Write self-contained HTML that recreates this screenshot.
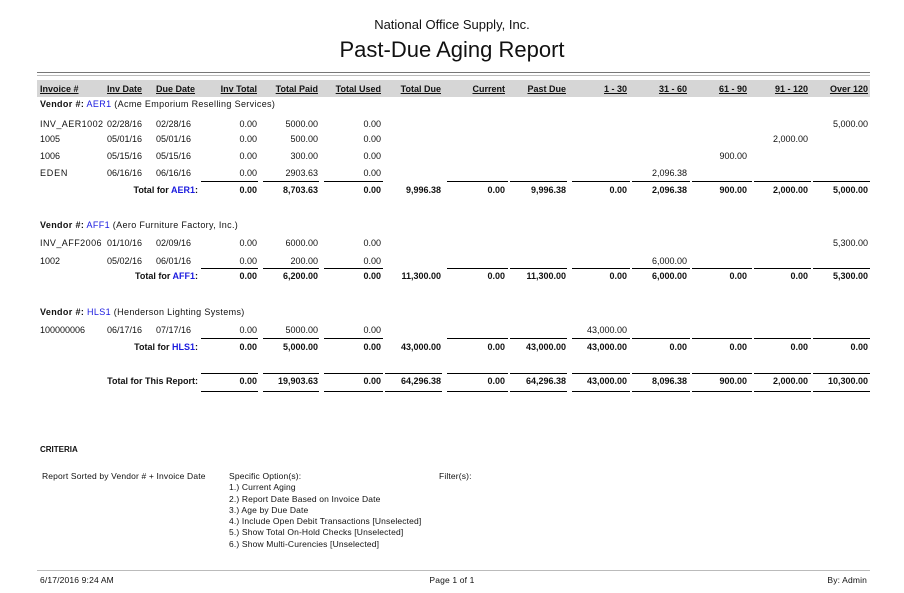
<!DOCTYPE html>
<html><head><meta charset="utf-8"><style>
body{margin:0;background:#fff;width:904px;height:593px;position:relative;overflow:hidden;font-family:"Liberation Sans",sans-serif;color:#111}
.t{position:absolute;white-space:nowrap;font-size:9px;line-height:10px}
.b{font-weight:bold}
.u{text-decoration:underline}
.l{position:absolute;height:1px;background:#000}
.v{color:#1a1adf}
.vd{letter-spacing:0.35px}
.sp{letter-spacing:0.8px}
.c{font-size:8.5px;letter-spacing:0.15px}
.hd{position:absolute;left:37px;top:80px;width:833px;height:17px;background:#d6d6d6}
</style></head><body>
<div class="t" style="left:0;width:904px;text-align:center;top:17px;font-size:13px;line-height:15px">National Office Supply, Inc.</div>
<div class="t" style="left:0;width:904px;text-align:center;top:37px;font-size:22px;line-height:26px">Past-Due Aging Report</div>
<div class="l" style="left:37px;top:72px;width:833px;background:#777"></div>
<div class="l" style="left:37px;top:75px;width:833px;background:#bbb"></div>
<div class="hd"></div>
<div class="t b u" style="left:40px;top:84px">Invoice #</div>
<div class="t b u" style="left:107px;top:84px">Inv Date</div>
<div class="t b u" style="left:156px;top:84px">Due Date</div>
<div class="t b u" style="right:647px;top:84px">Inv Total</div>
<div class="t b u" style="right:586px;top:84px">Total Paid</div>
<div class="t b u" style="right:523px;top:84px">Total Used</div>
<div class="t b u" style="right:463px;top:84px">Total Due</div>
<div class="t b u" style="right:399px;top:84px">Current</div>
<div class="t b u" style="right:338px;top:84px">Past Due</div>
<div class="t b u" style="right:277px;top:84px">1 - 30</div>
<div class="t b u" style="right:217px;top:84px">31 - 60</div>
<div class="t b u" style="right:157px;top:84px">61 - 90</div>
<div class="t b u" style="right:96px;top:84px">91 - 120</div>
<div class="t b u" style="right:36px;top:84px">Over 120</div>

<!-- AER1 -->
<div class="t vd" style="left:40px;top:99px"><b>Vendor #:</b> <span class="v">AER1</span> (Acme Emporium Reselling Services)</div>
<div class="t" style="left:40px;top:119px;letter-spacing:0.45px">INV_AER1002</div><div class="t" style="left:107px;top:119px">02/28/16</div><div class="t" style="left:156px;top:119px">02/28/16</div><div class="t" style="right:647px;top:119px">0.00</div><div class="t" style="right:586px;top:119px">5000.00</div><div class="t" style="right:523px;top:119px">0.00</div><div class="t" style="right:36px;top:119px">5,000.00</div>
<div class="t" style="left:40px;top:134px">1005</div><div class="t" style="left:107px;top:134px">05/01/16</div><div class="t" style="left:156px;top:134px">05/01/16</div><div class="t" style="right:647px;top:134px">0.00</div><div class="t" style="right:586px;top:134px">500.00</div><div class="t" style="right:523px;top:134px">0.00</div><div class="t" style="right:96px;top:134px">2,000.00</div>
<div class="t" style="left:40px;top:151px">1006</div><div class="t" style="left:107px;top:151px">05/15/16</div><div class="t" style="left:156px;top:151px">05/15/16</div><div class="t" style="right:647px;top:151px">0.00</div><div class="t" style="right:586px;top:151px">300.00</div><div class="t" style="right:523px;top:151px">0.00</div><div class="t" style="right:157px;top:151px">900.00</div>
<div class="t sp" style="left:40px;top:168px">EDEN</div><div class="t" style="left:107px;top:168px">06/16/16</div><div class="t" style="left:156px;top:168px">06/16/16</div><div class="t" style="right:647px;top:168px">0.00</div><div class="t" style="right:586px;top:168px">2903.63</div><div class="t" style="right:523px;top:168px">0.00</div><div class="t" style="right:217px;top:168px">2,096.38</div>
<div class="l" style="left:201px;top:181px;width:57px"></div><div class="l" style="left:263px;top:181px;width:56px"></div><div class="l" style="left:324px;top:181px;width:59px"></div><div class="l" style="left:447px;top:181px;width:61px"></div><div class="l" style="left:510px;top:181px;width:57px"></div><div class="l" style="left:572px;top:181px;width:58px"></div><div class="l" style="left:632px;top:181px;width:58px"></div><div class="l" style="left:692px;top:181px;width:60px"></div><div class="l" style="left:754px;top:181px;width:57px"></div><div class="l" style="left:813px;top:181px;width:57px"></div>
<div class="t b" style="right:706px;top:185px">Total for <span class="v">AER1</span>:</div><div class="t b" style="right:647px;top:185px">0.00</div><div class="t b" style="right:586px;top:185px">8,703.63</div><div class="t b" style="right:523px;top:185px">0.00</div><div class="t b" style="right:463px;top:185px">9,996.38</div><div class="t b" style="right:399px;top:185px">0.00</div><div class="t b" style="right:338px;top:185px">9,996.38</div><div class="t b" style="right:277px;top:185px">0.00</div><div class="t b" style="right:217px;top:185px">2,096.38</div><div class="t b" style="right:157px;top:185px">900.00</div><div class="t b" style="right:96px;top:185px">2,000.00</div><div class="t b" style="right:36px;top:185px">5,000.00</div>

<!-- AFF1 -->
<div class="t vd" style="left:40px;top:220px"><b>Vendor #:</b> <span class="v">AFF1</span> (Aero Furniture Factory, Inc.)</div>
<div class="t" style="left:40px;top:238px;letter-spacing:0.45px">INV_AFF2006</div><div class="t" style="left:107px;top:238px">01/10/16</div><div class="t" style="left:156px;top:238px">02/09/16</div><div class="t" style="right:647px;top:238px">0.00</div><div class="t" style="right:586px;top:238px">6000.00</div><div class="t" style="right:523px;top:238px">0.00</div><div class="t" style="right:36px;top:238px">5,300.00</div>
<div class="t" style="left:40px;top:256px">1002</div><div class="t" style="left:107px;top:256px">05/02/16</div><div class="t" style="left:156px;top:256px">06/01/16</div><div class="t" style="right:647px;top:256px">0.00</div><div class="t" style="right:586px;top:256px">200.00</div><div class="t" style="right:523px;top:256px">0.00</div><div class="t" style="right:217px;top:256px">6,000.00</div>
<div class="l" style="left:201px;top:268px;width:57px"></div><div class="l" style="left:263px;top:268px;width:56px"></div><div class="l" style="left:324px;top:268px;width:59px"></div><div class="l" style="left:447px;top:268px;width:61px"></div><div class="l" style="left:510px;top:268px;width:57px"></div><div class="l" style="left:572px;top:268px;width:58px"></div><div class="l" style="left:632px;top:268px;width:58px"></div><div class="l" style="left:692px;top:268px;width:60px"></div><div class="l" style="left:754px;top:268px;width:57px"></div><div class="l" style="left:813px;top:268px;width:57px"></div>
<div class="t b" style="right:706px;top:271px">Total for <span class="v">AFF1</span>:</div><div class="t b" style="right:647px;top:271px">0.00</div><div class="t b" style="right:586px;top:271px">6,200.00</div><div class="t b" style="right:523px;top:271px">0.00</div><div class="t b" style="right:463px;top:271px">11,300.00</div><div class="t b" style="right:399px;top:271px">0.00</div><div class="t b" style="right:338px;top:271px">11,300.00</div><div class="t b" style="right:277px;top:271px">0.00</div><div class="t b" style="right:217px;top:271px">6,000.00</div><div class="t b" style="right:157px;top:271px">0.00</div><div class="t b" style="right:96px;top:271px">0.00</div><div class="t b" style="right:36px;top:271px">5,300.00</div>

<!-- HLS1 -->
<div class="t vd" style="left:40px;top:307px"><b>Vendor #:</b> <span class="v">HLS1</span> (Henderson Lighting Systems)</div>
<div class="t" style="left:40px;top:325px">100000006</div><div class="t" style="left:107px;top:325px">06/17/16</div><div class="t" style="left:156px;top:325px">07/17/16</div><div class="t" style="right:647px;top:325px">0.00</div><div class="t" style="right:586px;top:325px">5000.00</div><div class="t" style="right:523px;top:325px">0.00</div><div class="t" style="right:277px;top:325px">43,000.00</div>
<div class="l" style="left:201px;top:338px;width:57px"></div><div class="l" style="left:263px;top:338px;width:56px"></div><div class="l" style="left:324px;top:338px;width:59px"></div><div class="l" style="left:447px;top:338px;width:61px"></div><div class="l" style="left:510px;top:338px;width:57px"></div><div class="l" style="left:572px;top:338px;width:58px"></div><div class="l" style="left:632px;top:338px;width:58px"></div><div class="l" style="left:692px;top:338px;width:60px"></div><div class="l" style="left:754px;top:338px;width:57px"></div><div class="l" style="left:813px;top:338px;width:57px"></div>
<div class="t b" style="right:706px;top:342px">Total for <span class="v">HLS1</span>:</div><div class="t b" style="right:647px;top:342px">0.00</div><div class="t b" style="right:586px;top:342px">5,000.00</div><div class="t b" style="right:523px;top:342px">0.00</div><div class="t b" style="right:463px;top:342px">43,000.00</div><div class="t b" style="right:399px;top:342px">0.00</div><div class="t b" style="right:338px;top:342px">43,000.00</div><div class="t b" style="right:277px;top:342px">43,000.00</div><div class="t b" style="right:217px;top:342px">0.00</div><div class="t b" style="right:157px;top:342px">0.00</div><div class="t b" style="right:96px;top:342px">0.00</div><div class="t b" style="right:36px;top:342px">0.00</div>

<!-- Report total -->
<div class="l" style="left:201px;top:373px;width:57px"></div><div class="l" style="left:263px;top:373px;width:56px"></div><div class="l" style="left:324px;top:373px;width:59px"></div><div class="l" style="left:385px;top:373px;width:57px"></div><div class="l" style="left:447px;top:373px;width:61px"></div><div class="l" style="left:510px;top:373px;width:57px"></div><div class="l" style="left:572px;top:373px;width:58px"></div><div class="l" style="left:632px;top:373px;width:58px"></div><div class="l" style="left:692px;top:373px;width:60px"></div><div class="l" style="left:754px;top:373px;width:57px"></div><div class="l" style="left:813px;top:373px;width:57px"></div>
<div class="t b" style="right:706px;top:376px">Total for This Report:</div><div class="t b" style="right:647px;top:376px">0.00</div><div class="t b" style="right:586px;top:376px">19,903.63</div><div class="t b" style="right:523px;top:376px">0.00</div><div class="t b" style="right:463px;top:376px">64,296.38</div><div class="t b" style="right:399px;top:376px">0.00</div><div class="t b" style="right:338px;top:376px">64,296.38</div><div class="t b" style="right:277px;top:376px">43,000.00</div><div class="t b" style="right:217px;top:376px">8,096.38</div><div class="t b" style="right:157px;top:376px">900.00</div><div class="t b" style="right:96px;top:376px">2,000.00</div><div class="t b" style="right:36px;top:376px">10,300.00</div>
<div class="l" style="left:201px;top:391px;width:57px"></div><div class="l" style="left:263px;top:391px;width:56px"></div><div class="l" style="left:324px;top:391px;width:59px"></div><div class="l" style="left:385px;top:391px;width:57px"></div><div class="l" style="left:447px;top:391px;width:61px"></div><div class="l" style="left:510px;top:391px;width:57px"></div><div class="l" style="left:572px;top:391px;width:58px"></div><div class="l" style="left:632px;top:391px;width:58px"></div><div class="l" style="left:692px;top:391px;width:60px"></div><div class="l" style="left:754px;top:391px;width:57px"></div><div class="l" style="left:813px;top:391px;width:57px"></div>

<!-- Criteria -->
<div class="t b" style="left:40px;top:445px;font-size:8px">CRITERIA</div>
<div class="t c" style="left:42px;top:471px">Report Sorted by Vendor # + Invoice Date</div>
<div class="t c" style="left:229px;top:471px;line-height:11.3px">Specific Option(s):<br>1.) Current Aging<br>2.) Report Date Based on Invoice Date<br>3.) Age by Due Date<br>4.) Include Open Debit Transactions [Unselected]<br>5.) Show Total On-Hold Checks [Unselected]<br>6.) Show Multi-Curencies [Unselected]</div>
<div class="t c" style="left:439px;top:471px">Filter(s):</div>

<div class="l" style="left:37px;top:570px;width:833px;background:#bbb"></div>
<div class="t c" style="left:40px;top:575px">6/17/2016 9:24 AM</div>
<div class="t c" style="left:0;width:904px;text-align:center;top:575px">Page 1 of 1</div>
<div class="t c" style="right:37px;top:575px">By: Admin</div>
</body></html>
